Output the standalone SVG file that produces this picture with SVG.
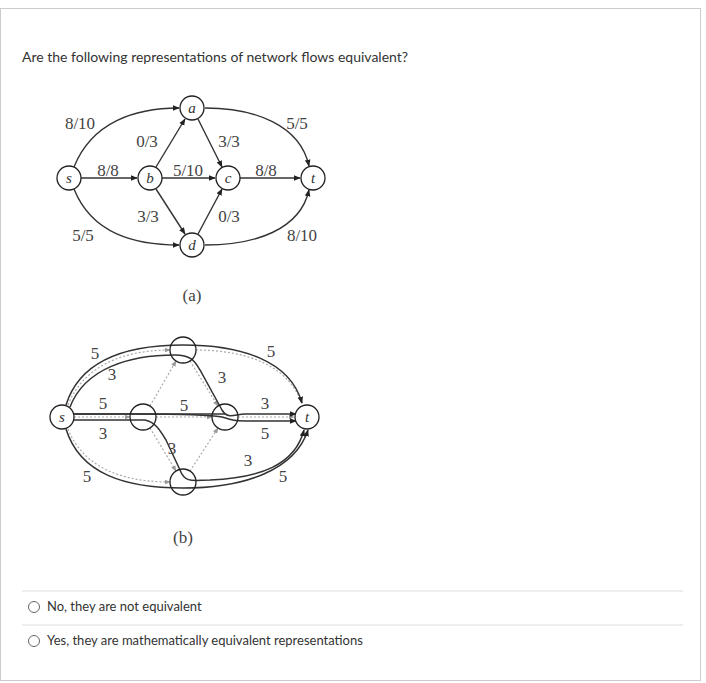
<svg xmlns="http://www.w3.org/2000/svg" width="706" height="683" viewBox="0 0 706 683">
<style>
.n{fill:#fff;stroke:#222;stroke-width:1.3}
.e{fill:none;stroke:#333;stroke-width:1.4}
.d{fill:none;stroke:#aaa;stroke-width:1.2;stroke-dasharray:2 2}
.f{fill:none;stroke:#333;stroke-width:1.5}
.l{font-family:"Liberation Serif",serif;font-size:17px;fill:#444;text-anchor:middle}
.it{font-family:"Liberation Serif",serif;font-style:italic;font-size:15px;fill:#333;text-anchor:middle}
.q{font-family:Lato,"Liberation Sans",sans-serif;font-size:14px;fill:#333}
.o{font-family:Lato,"Liberation Sans",sans-serif;font-size:13px;fill:#333}
</style>
<defs>
<marker id="ar" viewBox="0 0 10 10" refX="9" refY="5" markerWidth="7" markerHeight="7" orient="auto" markerUnits="userSpaceOnUse"><path d="M0,1 L10,5 L0,9 z" fill="#222"/></marker>
<marker id="ag" viewBox="0 0 10 10" refX="9" refY="5" markerWidth="6" markerHeight="6" orient="auto" markerUnits="userSpaceOnUse"><path d="M0,1 L10,5 L0,9 z" fill="#999"/></marker>
</defs>
<rect x="0.5" y="8.5" width="700" height="672" fill="#fff" stroke="#ccc"/>
<text class="q" x="22" y="62">Are the following representations of network flows equivalent?</text>
<g id="connectors-a">
<path class="e" marker-end="url(#ar)" d="M74,167 C92,122 135,108 179,108"/>
<path class="e" marker-end="url(#ar)" d="M205,108 C255,108 300,125 309,166"/>
<path class="e" marker-end="url(#ar)" d="M74,189 C92,234 135,245 179,245"/>
<path class="e" marker-end="url(#ar)" d="M205,245 C255,245 300,230 309,190"/>
<path class="e" marker-end="url(#ar)" d="M81,178 L137,178"/>
<path class="e" marker-end="url(#ar)" d="M162,178 L215,178"/>
<path class="e" marker-end="url(#ar)" d="M240,178 L300,178"/>
<path class="e" marker-end="url(#ar)" d="M156,167 L185,119"/>
<path class="e" marker-end="url(#ar)" d="M198,119 L222,167"/>
<path class="e" marker-end="url(#ar)" d="M156,189 L185,234"/>
<path class="e" marker-end="url(#ar)" d="M198,234 L222,189"/>
</g>
<g id="labels-a">
<text class="l" x="80" y="129">8/10</text>
<text class="l" x="147" y="147">0/3</text>
<text class="l" x="297" y="129">5/5</text>
<text class="l" x="229" y="147">3/3</text>
<text class="l" x="108" y="176">8/8</text>
<text class="l" x="188" y="176">5/10</text>
<text class="l" x="266" y="176">8/8</text>
<text class="l" x="148" y="222">3/3</text>
<text class="l" x="229" y="222">0/3</text>
<text class="l" x="83" y="241">5/5</text>
<text class="l" x="302" y="241">8/10</text>
<text class="l" x="192" y="301">(a)</text>
</g>
<g id="node-s-a"><circle class="n" cx="69" cy="178" r="12"/><text class="it" x="69" y="183">s</text></g>
<g id="node-a"><circle class="n" cx="192" cy="108" r="12"/><text class="it" x="192" y="113">a</text></g>
<g id="node-b"><circle class="n" cx="150" cy="178" r="12"/><text class="it" x="150" y="183">b</text></g>
<g id="node-c"><circle class="n" cx="228" cy="178" r="12"/><text class="it" x="228" y="183">c</text></g>
<g id="node-d"><circle class="n" cx="192" cy="245" r="12"/><text class="it" x="192" y="250">d</text></g>
<g id="node-t-a"><circle class="n" cx="313" cy="178" r="12"/><text class="it" x="313" y="183">t</text></g>
<g id="connectors-b">
<path class="d" marker-end="url(#ag)" d="M68,405 C85,362 130,350 170,350"/>
<path class="d" d="M196,350 C245,350 290,365 302,405"/>
<path class="d" marker-end="url(#ag)" d="M68,429 C85,472 130,482 170,482"/>
<path class="d" marker-end="url(#ag)" d="M74,417 L130,417"/>
<path class="d" marker-end="url(#ag)" d="M156,417 L212,417"/>
<path class="d" marker-end="url(#ag)" d="M238,417 L294,417"/>
<path class="d" marker-end="url(#ag)" d="M150,406 L176,361"/>
<path class="d" marker-end="url(#ag)" d="M190,361 L218,406"/>
<path class="d" marker-end="url(#ag)" d="M150,428 L176,471"/>
<path class="d" marker-end="url(#ag)" d="M190,471 L218,428"/>
<path class="f" d="M66,405 C80,360 125,345 183,345 C240,345 290,360 302,403" marker-end="url(#ar)"/>
<path class="f" d="M70,407 C85,368 130,355 175,355 C192,355 195,362 200,370 L222,410 C228,420 235,414 245,414 L296,414" marker-end="url(#ar)"/>
<path class="f" d="M74,414 L140,414 C170,414 200,414 225,414"/>
<path class="f" d="M74,414 L140,414 C170,414 210,415 222,417 C232,420 235,421 245,421 L296,421" marker-end="url(#ar)"/>
<path class="f" d="M74,420 L145,420 C155,422 160,430 166,440 L180,470 C185,484 195,480 210,480 C260,478 295,465 304,430" marker-end="url(#ar)"/>
<path class="f" d="M66,429 C80,474 125,488 183,488 C245,488 295,470 308,430" marker-end="url(#ar)"/>
</g>
<g id="labels-b">
<text class="l" x="95" y="359">5</text>
<text class="l" x="112" y="380">3</text>
<text class="l" x="103" y="409">5</text>
<text class="l" x="103" y="439">3</text>
<text class="l" x="87" y="482">5</text>
<text class="l" x="271" y="357">5</text>
<text class="l" x="222" y="383">3</text>
<text class="l" x="184" y="411">5</text>
<text class="l" x="172" y="454">3</text>
<text class="l" x="265" y="409">3</text>
<text class="l" x="265" y="439">5</text>
<text class="l" x="248" y="466">3</text>
<text class="l" x="283" y="482">5</text>
<text class="l" x="183" y="543">(b)</text>
</g>
<g id="node-s-b"><circle class="n" cx="62" cy="417" r="12"/><text class="it" x="62" y="422">s</text></g>
<g id="node-top-b"><circle class="n" cx="183" cy="350" r="13" fill="none" style="fill:none"/></g>
<g id="node-l-b"><circle class="n" cx="143" cy="417" r="13" style="fill:none"/></g>
<g id="node-r-b"><circle class="n" cx="225" cy="417" r="13" style="fill:none"/></g>
<g id="node-bot-b"><circle class="n" cx="183" cy="482" r="13" style="fill:none"/></g>
<g id="node-t-b"><circle class="n" cx="307" cy="417" r="12"/><text class="it" x="307" y="422">t</text></g>
<g id="options">
<line x1="22" y1="591" x2="683" y2="591" stroke="#ddd"/>
<circle cx="34" cy="607" r="5.5" fill="#fff" stroke="#666"/>
<text class="o" x="47" y="611">No, they are not equivalent</text>
<line x1="22" y1="625" x2="683" y2="625" stroke="#ddd"/>
<circle cx="34" cy="641" r="5.5" fill="#fff" stroke="#666"/>
<text class="o" x="47" y="645">Yes, they are mathematically equivalent representations</text>
</g>
</svg>
